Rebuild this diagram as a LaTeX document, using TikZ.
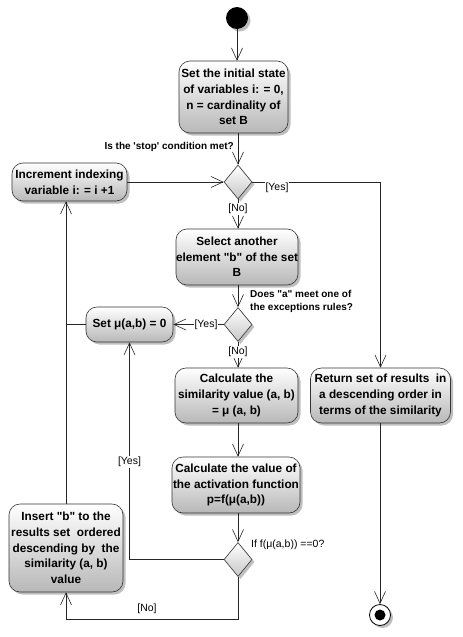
\documentclass[tikz,border=0pt]{standalone}
\usepackage{fontspec}
\setmainfont{Liberation Sans}
\usetikzlibrary{shapes.geometric,shadows,arrows.meta}
\newcommand\dq{\XeTeXglyph\XeTeXcharglyph"22\relax}
\newcommand\sq{\XeTeXglyph\XeTeXcharglyph"27\relax}
\begin{document}
\begin{tikzpicture}[x=1pt,y=-1pt,
 shad/.style={drop shadow={shadow xshift=2.5pt,shadow yshift=-2.5pt,fill=black!55,opacity=0.45}},
 act/.style={draw=black!80, line width=0.6pt, rounded corners=11pt, top color=white, bottom color=black!28, shad, align=center, font=\fontsize{11.8}{15.7}\selectfont\bfseries, inner sep=0pt},
 dec/.style={diamond, draw=black!80, line width=0.6pt, top color=white, bottom color=black!22, shad, minimum width=28pt, minimum height=34pt, inner sep=0pt},
 flow/.style={draw=black!85, line width=0.6pt},
 arr/.style={flow, -{Straight Barb[length=12pt,width=11pt]}},
 q/.style={font=\fontsize{10}{13}\selectfont\bfseries, inner sep=0pt, align=left},
 guard/.style={font=\fontsize{10.5}{12}\selectfont, inner sep=1pt, fill=white},
]
\fill[white] (0,0) rectangle (463,637);
\useasboundingbox (0,0) rectangle (463,637);

\node[circle, fill=black, minimum size=22pt, inner sep=0pt, shad] (start) at (237,18) {};
\node[act, minimum width=109pt, minimum height=72pt] (init) at (233.5,97) {Set the initial state\\of variables i: = 0,\\n = cardinality of\\set B};
\node[dec] (d1) at (238,182) {};
\node[act, minimum width=115pt, minimum height=38pt] (inc) at (69.5,182) {Increment indexing\\variable i: = i +1};
\node[act, minimum width=122pt, minimum height=56pt] (sel) at (237,257) {Select another\\element \dq b\dq{} of the set\\B};
\node[dec] (d2) at (238,324.5) {};
\node[act, minimum width=87pt, minimum height=35pt] (setmu) at (129.5,324.5) {Set μ(a,b) = 0};
\node[act, minimum width=123pt, minimum height=55pt] (calc) at (236.5,395.5) {Calculate the\\similarity value (a, b)\\= μ (a, b)};
\node[act, minimum width=128pt, minimum height=56pt] (actf) at (236,485) {Calculate the value of\\the activation function\\p=f(μ(a,b))};
\node[dec] (d3) at (238,559.5) {};
\node[act, minimum width=114pt, minimum height=88pt] (ins) at (66,548) {Insert \dq b\dq{} to the\\results set\ \ ordered\\descending by\ \ the\\similarity (a, b)\\value};
\node[act, minimum width=140pt, minimum height=55pt] (ret) at (380.5,395.5) {Return set of results\ \ in\\a descending order in\\terms of the similarity};
\node[circle, draw=black, fill=white, minimum size=21pt, inner sep=0pt, line width=0.8pt, shad] (end) at (380,615) {};
\node[circle, fill=black, minimum size=11pt, inner sep=0pt] (endin) at (end.center) {};

\draw[arr] (start) -- (init.north -| start);
\draw[arr] (init.south -| d1) -- (d1.north);
\draw[arr] (inc.east) -- (d1.west);
\draw[arr] (d1.east) -| (ret.north);
\draw[arr] (d1.south) -- (sel.north -| d1);
\draw[arr] (sel.south -| d2) -- (d2.north);
\draw[arr] (d2.west) -- (setmu.east);
\draw[arr] (d2.south) -- (calc.north -| d2);
\draw[arr] (calc.south -| d2) -- (actf.north -| d2);
\draw[arr] (actf.south -| d3) -- (d3.north);
\draw[arr] (d3.west) -| (setmu.south);
\draw[arr] (d3.south) -- ++(0,42.5) -| (ins.south);
\draw[arr] (ins.north) -- (ins.north |- inc.south);
\draw[flow] (setmu.west) -- (setmu.west -| ins.north);
\draw[arr] (ret.south -| end) -- (end.north);

\node[q, anchor=east] (q1) at (234,147) {Is the \sq stop\sq{} condition met?};
\node[q, anchor=west] (q2) at (250,301.5) {Does \dq a\dq{} meet one of\\the exceptions rules?};
\node[anchor=west, inner sep=0pt, font=\fontsize{10.5}{12}\selectfont] (q3) at (251,545) {If f(μ(a,b)) ==0?};

\node[guard] (y1) at (277,188) {[Yes]};
\node[guard] (n1) at (238,209) {[No]};
\node[guard] (y2) at (206,325) {[Yes]};
\node[guard] (n2) at (238,352) {[No]};
\node[guard] (y3) at (129.5,462) {[Yes]};
\node[guard, fill=none] (n3) at (147,609) {[No]};
\end{tikzpicture}
\end{document}
